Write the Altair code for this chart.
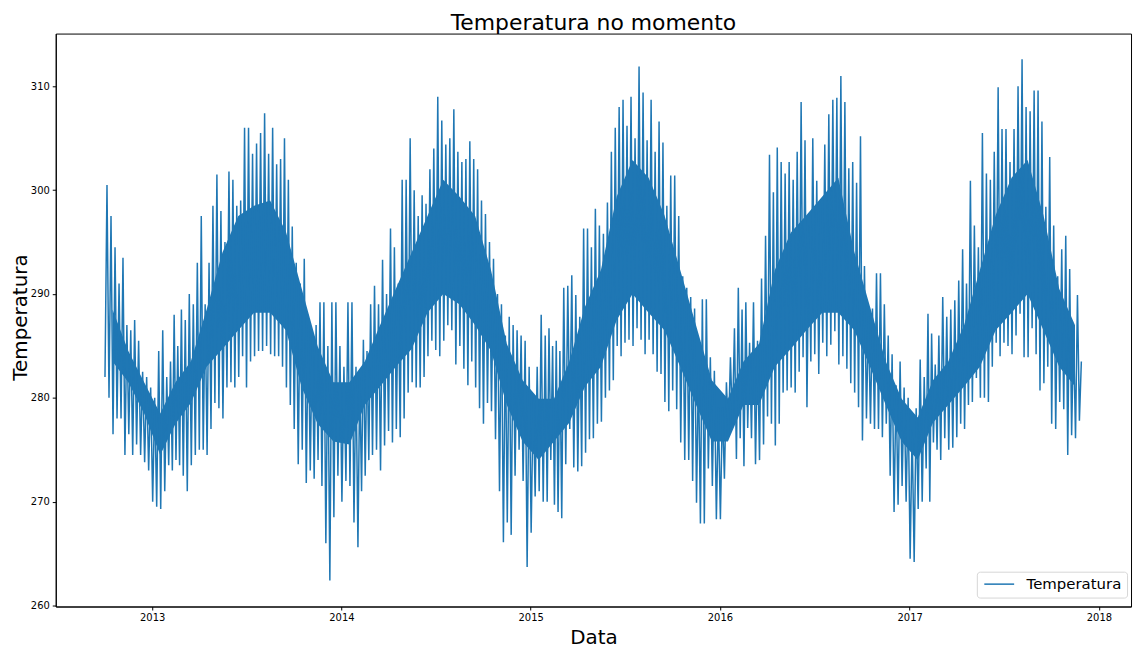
import altair as alt
import pandas as pd

# Weekly extremes (4 weeks per month, Oct 2012 - Nov 2017), Kelvin
highs_2012 = [300.5, 297.5, 294.5, 291, 293.5, 287, 286.5, 287.5, 285.5, 282.5, 282, 281]
lows_2012 = [282, 280, 276.5, 278, 278, 274.5, 276.5, 274.5, 275.5, 274.5, 273.8, 273]

highs_2013 = [280, 284.5, 286.5, 282, 283.5, 288, 285, 288.5, 287.5, 290, 289, 293,
              297.5, 289, 293, 298.5, 301.5, 298, 295, 301.8, 301, 298.5, 299, 306,
              306, 303.5, 304.5, 305.5, 307.4, 303.5, 306, 302.5, 303, 305, 301, 296.5,
              293, 291, 293.4, 287, 286, 287, 289.2, 289.2, 285, 289.2, 289.2, 285]
lows_2013 = [270, 269.5, 269.3, 271, 273.5, 273, 274, 273.5, 272.5, 271, 273.5, 274.5,
             275, 275, 274.5, 277, 279.5, 279, 278, 281, 281.5, 281, 282, 284,
             281, 283.5, 284, 284.5, 284.5, 285, 284.2, 284, 284, 283, 281, 279.3,
             277, 273.6, 275, 271.8, 273, 272.2, 274, 271.5, 266, 262.4, 268.5, 272.5]

highs_2014 = [283, 289.2, 289.2, 283, 282, 285.6, 284.5, 289, 290.8, 289, 293.3, 290,
              296.3, 294.5, 291, 301, 301, 305, 300, 297.5, 299.5, 298.7, 302, 304,
              309, 306.7, 304.4, 305, 307.8, 303.7, 302.7, 303, 304.7, 303, 302, 299,
              297.7, 295, 293.4, 290, 289, 286, 287.8, 287, 286.5, 286, 285.5, 283]
lows_2014 = [270, 272, 271.5, 268, 265.6, 271, 272.5, 274, 274.5, 275, 273, 275.4,
             276.8, 275.7, 277, 276.2, 278, 280.5, 281.5, 281, 281, 282, 284, 285.5,
             284.6, 284, 285.5, 287, 286.5, 283.2, 285, 282.8, 281.2, 283.5, 281, 279,
             277.5, 279.5, 278.7, 276, 271, 266.1, 268, 266.8, 272.5, 275, 272, 263.7]

highs_2015 = [280, 283, 288, 286, 286.7, 285, 285.5, 284.5, 290.6, 290.8, 291.8, 289.9,
              287.8, 296.3, 296.3, 294.5, 298.2, 296.6, 295.8, 298.8, 303.7, 306, 308, 308.7,
              306.2, 309, 305, 311.9, 309.4, 304.8, 308.7, 303.7, 306.6, 304.6, 298.5, 301.4,
              301.4, 297.5, 291.7, 290.6, 289.7, 288.6, 283.2, 289.5, 289.5, 283.9, 282.6, 279.1]
lows_2015 = [267, 270.5, 271, 270, 270, 274, 269.7, 269, 268.4, 273.6, 277, 273.3,
             272.9, 273.4, 274.7, 276, 276.1, 277.5, 277.7, 280, 280.7, 281.7, 285, 284,
             285.3, 285.6, 285, 286.7, 285.6, 284.2, 285.6, 284.2, 282.5, 282.3, 279.6, 278.7,
             280.7, 278.9, 275.7, 274, 274, 272, 269.9, 267.9, 267.9, 273.2, 271.5, 268.3]

highs_2016 = [279.1, 281.5, 283.9, 286.7, 290.6, 288.5, 289.2, 285.3, 289.2, 285.5, 291.5, 295.6,
              303.4, 299.8, 304.1, 302.7, 301.6, 302.7, 301, 303.7, 308.5, 304.8, 296.6, 305,
              300.9, 298.8, 304.4, 307.3, 308.7, 308.9, 311, 308.5, 302.1, 302.7, 300.7, 305.2,
              292.7, 287.8, 288.6, 292, 292, 289, 286, 284.2, 281.2, 283.5, 281, 280]
lows_2016 = [268.3, 272.2, 276.4, 277.5, 274.1, 276.1, 273.4, 277.1, 276.1, 273.6, 274, 275.5,
             278.2, 277.5, 275.4, 277.5, 280.5, 280.7, 281, 280.5, 282.5, 283.9, 279.1, 283.5,
             284.2, 282.3, 285.3, 284, 285.1, 286.4, 283.2, 284, 282.8, 281.4, 280.5, 279.1,
             275.9, 278, 277.5, 277, 277, 276.2, 277.5, 272.5, 269, 269.7, 271.5, 270]

highs_2017 = [277, 279, 283.7, 282, 288.1, 286.2, 283.2, 286, 289.7, 287.8, 288.5, 289.4,
              291.3, 294.3, 291, 300.9, 296.6, 294.5, 305.5, 301.6, 301, 303.7, 309.9, 305.9,
              305.9, 302.7, 305.9, 310, 312.6, 308, 307.6, 309.6, 309.6, 306.6, 298.4, 303.2,
              296.6, 291.7, 294.3, 295.6, 292.4, 286.4, 289.9, 283.5]
lows_2017 = [264.5, 264.2, 269.3, 270, 273.2, 270, 275.7, 275, 274, 276.1, 275, 275.2,
             276.2, 277.5, 277, 279.3, 279.6, 281.9, 280, 280, 279.6, 283, 285.3, 284,
             285.3, 285, 284.2, 286, 288.1, 283.9, 283.9, 286.7, 284.2, 280.7, 281.4, 283,
             277.5, 277, 279.6, 278.9, 274.5, 276.4, 276.1, 277.8]

# Monthly range where the hourly trace is densest (solid core)
core_high_2012 = [288.5, 284.5, 281.5]
core_low_2012 = [283.5, 281.5, 278.5]
core_high_2013 = [278.5, 281.5, 283.5, 288.5, 294, 297.5, 298.5, 299, 296, 290.5, 285, 281.5]
core_low_2013 = [274.5, 277.5, 279.5, 283, 284.7, 286.5, 288.2, 288.2, 286.5, 281, 277.5, 275.8]
core_high_2014 = [281.5, 283.5, 287, 290.5, 294, 297.5, 301, 299.4, 297.5, 292.3, 285.2, 281.7]
core_low_2014 = [275.5, 279.3, 281.1, 283, 284.7, 288.2, 290, 289, 287, 284.5, 279.3, 275.8]
core_high_2015 = [279.9, 279.9, 283.5, 288.8, 292.3, 299.4, 302.9, 301.2, 297.6, 292.3, 287, 281.7]
core_low_2015 = [274, 275.8, 277.6, 281.1, 283, 287.5, 290, 288.2, 286.5, 283, 279.3, 275.8]
core_high_2016 = [279.9, 283.5, 285.2, 292.3, 295.9, 297.6, 299.4, 301.2, 294.1, 288.8, 283.5, 279.9]
core_low_2016 = [275.8, 279.3, 279.3, 283, 284.7, 286.5, 288.2, 288.2, 286.5, 283, 279.3, 275.8]
core_high_2017 = [278.1, 281.7, 283.5, 287, 292.3, 297.6, 301.2, 302.9, 297.6, 290.5, 287]
core_low_2017 = [274, 277.6, 279.3, 281.1, 283, 286.5, 288.2, 290, 286.5, 283, 281.1]

y_ticks = [260, 270, 280, 290, 300, 310]
x_tick_years = [2013, 2014, 2015, 2016, 2017, 2018]

highs = highs_2012 + highs_2013 + highs_2014 + highs_2015 + highs_2016 + highs_2017
lows = lows_2012 + lows_2013 + lows_2014 + lows_2015 + lows_2016 + lows_2017
core_high = (core_high_2012 + core_high_2013 + core_high_2014 + core_high_2015
             + core_high_2016 + core_high_2017)
core_low = (core_low_2012 + core_low_2013 + core_low_2014 + core_low_2015
            + core_low_2016 + core_low_2017)

months = pd.date_range("2012-10-01", "2017-11-01", freq="MS")
rows = []
band_rows = []
for mi, m in enumerate(months):
    days = m.days_in_month
    for k in range(4):
        pair = (lows[mi * 4 + k], highs[mi * 4 + k])
        for j, val in enumerate(pair):
            i = 2 * k + j
            t = m + pd.Timedelta(hours=24 * days * (i + 0.25) / 8)
            rows.append({"Data": t.strftime("%Y-%m-%dT%H:%M:%S"),
                         "Temperatura": val, "serie": "Temperatura"})
    tm = m + pd.Timedelta(hours=24 * days / 2)
    band_rows.append({"Data": tm.strftime("%Y-%m-%dT%H:%M:%S"),
                      "lo": core_low[mi], "hi": core_high[mi]})
df = pd.DataFrame(rows)
band = pd.DataFrame(band_rows)

FONT = "DejaVu Sans"
BLUE = "#1f77b4"

x_scale = alt.Scale(domain=[alt.DateTime(year=2012, month=6, date=29),
                            alt.DateTime(year=2018, month=3, date=4)])
y_scale = alt.Scale(domain=[259.9, 315.08], nice=False, zero=False)

x_axis = alt.Axis(
    values=[alt.DateTime(year=y, month=1, date=1) for y in x_tick_years],
    format="%Y", title="Data", titleFontSize=20, titleFont=FONT,
    titleFontWeight="normal", titleColor="black",
    titleY=37, titleBaseline="alphabetic", labelPadding=3,
)
y_axis = alt.Axis(
    values=y_ticks, title="Temperatura", titleFontSize=20, titleFont=FONT,
    titleFontWeight="normal", titleColor="black",
    titleX=-29, titleY=285, titleAngle=270, titleBaseline="alphabetic",
    titleAlign="center", labelPadding=3,
)

core = alt.Chart(band).mark_area(color=BLUE, opacity=1, clip=True).encode(
    x=alt.X("Data:T", scale=x_scale, axis=x_axis),
    y=alt.Y("lo:Q", scale=y_scale, axis=y_axis),
    y2="hi:Q",
)

line = alt.Chart(df).mark_line(strokeWidth=1.5, clip=True).encode(
    x=alt.X("Data:T", scale=x_scale, axis=x_axis),
    y=alt.Y("Temperatura:Q", scale=y_scale, axis=y_axis),
    color=alt.Color(
        "serie:N", title=None,
        scale=alt.Scale(range=[BLUE]),
        legend=alt.Legend(
            orient="none", legendX=926, legendY=541,
            symbolType="M-3,0H3", symbolSize=100, symbolStrokeWidth=1.5,
            symbolOffset=10, labelOffset=20,
            labelFontSize=15, labelFont=FONT, labelColor="black",
            strokeColor="#d6d6d6", fillColor="white", cornerRadius=3,
            padding=5,
        ),
    ),
)

chart = alt.layer(core, line).properties(
    width=1081,
    height=576,
    title=alt.Title("Temperatura no momento", fontSize=22, font=FONT,
                    fontWeight="normal", color="black", anchor="middle",
                    offset=0, dy=1),
    autosize=alt.AutoSizeParams(type="none"),
    padding={"left": 48, "top": 24, "right": 4, "bottom": 40},
).configure_view(
    stroke="black", strokeWidth=1
).configure_axis(
    grid=False, domainColor="black", tickColor="black", labelColor="black",
    labelFont=FONT, labelFontSize=10, tickSize=3.5, domainWidth=1, tickWidth=1,
)

chart.save("out.html", embed_options={"renderer": "svg", "actions": False})
